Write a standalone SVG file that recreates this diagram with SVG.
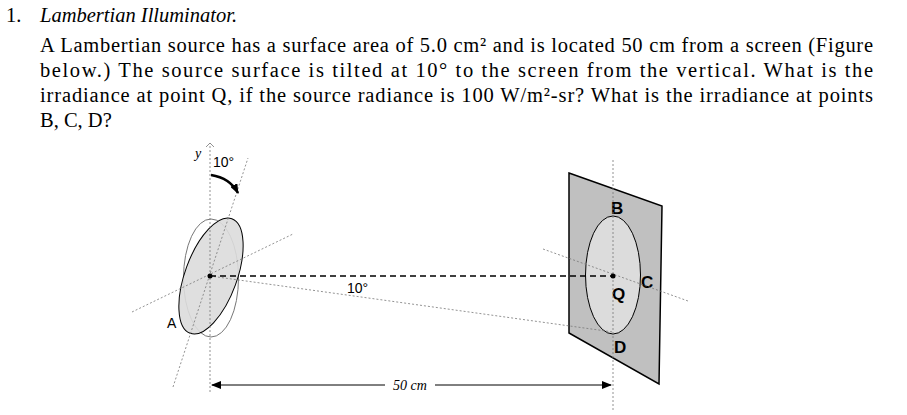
<svg xmlns="http://www.w3.org/2000/svg" width="907" height="415" viewBox="0 0 907 415">
<style>
.t{font-family:"Liberation Serif",serif;font-size:20.5px;fill:#000}
.s{font-family:"Liberation Sans",sans-serif;font-size:14px;fill:#000}
.b{font-family:"Liberation Sans",sans-serif;font-size:17px;font-weight:bold;fill:#000}
.dot{stroke:#777;stroke-width:0.8;stroke-dasharray:2 2;fill:none}
</style>
<defs>
<marker id="ah" markerWidth="10" markerHeight="8" refX="9" refY="4" orient="auto" markerUnits="userSpaceOnUse"><path d="M0,0L10,4L0,8z" fill="#000"/></marker>
<marker id="ay" markerWidth="8" markerHeight="8" refX="4" refY="4" orient="auto" markerUnits="userSpaceOnUse"><path d="M0,0L4,4L0,8" fill="none" stroke="#777" stroke-width="0.8"/></marker>
</defs>
<text class="t" x="6" y="22">1.</text>
<text class="t" x="40" y="22" font-style="italic">Lambertian Illuminator.</text>
<text class="t" x="40" y="52" textLength="833" lengthAdjust="spacing">A Lambertian source has a surface area of 5.0 cm² and is located 50 cm from a screen (Figure</text>
<text class="t" x="40" y="77" textLength="833" lengthAdjust="spacing">below.) The source surface is tilted at 10° to the screen from the vertical. What is the</text>
<text class="t" x="40" y="102" textLength="833" lengthAdjust="spacing">irradiance at point Q, if the source radiance is 100 W/m²-sr? What is the irradiance at points</text>
<text class="t" x="40" y="127">B, C, D?</text>
<g id="screen">
<path d="M569,173L662,206L659,384L569,333z" fill="#c0c0c0" stroke="#000" stroke-width="1.5"/>
<ellipse cx="613" cy="275" rx="27.5" ry="59" fill="#dcdcdc" stroke="#000" stroke-width="1"/>
<text class="b" x="611" y="214">B</text>
<text class="b" x="641" y="288">C</text>
<text class="b" x="612" y="300">Q</text>
<text class="b" x="614" y="353">D</text>
</g>
<g id="source">
<ellipse cx="211" cy="278" rx="27.5" ry="59" fill="none" stroke="#777" stroke-width="1"/>
<ellipse cx="211" cy="276" rx="26" ry="61" transform="rotate(20 211 276)" fill="#dcdcdc" fill-opacity="0.9" stroke="#000" stroke-width="1"/>
<text class="s" x="167" y="328">A</text>
</g>
<g id="connectors">
<line class="dot" x1="210" y1="392" x2="210" y2="143" marker-end="url(#ay)"/>
<text x="195" y="158" font-family="Liberation Serif,serif" font-style="italic" font-size="14">y</text>
<line class="dot" x1="173" y1="387" x2="248" y2="158"/>
<line class="dot" x1="132" y1="312" x2="293" y2="234"/>
<line class="dot" x1="210" y1="276" x2="613" y2="332"/>
<line class="dot" x1="543" y1="249" x2="688" y2="301"/>
<line class="dot" x1="613" y1="160" x2="613" y2="412"/>
<line x1="210" y1="276" x2="613" y2="276" stroke="#000" stroke-width="1.5" stroke-dasharray="6 4"/>
<circle cx="210" cy="276" r="2.5"/>
<circle cx="613" cy="276" r="2.5"/>
<path d="M211,175Q230,178 238,193" fill="none" stroke="#000" stroke-width="2.5" marker-end="url(#ah)"/>
<text class="s" x="213" y="167">10°</text>
<text class="s" x="347" y="293">10°</text>
<line x1="385" y1="385" x2="212" y2="385" stroke="#000" marker-end="url(#ah)"/>
<line x1="435" y1="385" x2="611" y2="385" stroke="#000" marker-end="url(#ah)"/>
<text x="410" y="390" font-family="Liberation Serif,serif" font-style="italic" font-size="14" text-anchor="middle">50 cm</text>
</g>
</svg>
